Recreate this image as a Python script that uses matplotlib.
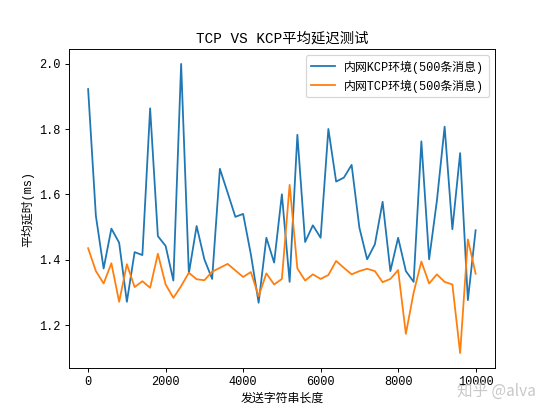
import numpy as np
import matplotlib
matplotlib.use('Agg')
import matplotlib.pyplot as plt

# 发送字符串长度 0..10000, step 200
lengths = list(range(0, 10001, 200))

kcp_delay = [1.922, 1.534, 1.373, 1.495, 1.452, 1.271, 1.423, 1.414, 1.863, 1.472,
             1.442, 1.336, 1.999, 1.358, 1.503, 1.401, 1.341, 1.678, 1.605, 1.531,
             1.540, 1.416, 1.268, 1.467, 1.391, 1.600, 1.332, 1.782, 1.454, 1.505,
             1.467, 1.800, 1.639, 1.651, 1.690, 1.498, 1.401, 1.447, 1.577, 1.365,
             1.467, 1.365, 1.332, 1.762, 1.401, 1.580, 1.807, 1.493, 1.726, 1.276,
             1.490]

tcp_delay = [1.435, 1.365, 1.327, 1.389, 1.271, 1.386, 1.316, 1.334, 1.314, 1.418,
             1.324, 1.283, 1.319, 1.360, 1.340, 1.337, 1.363, 1.375, 1.387, 1.367,
             1.347, 1.362, 1.288, 1.358, 1.324, 1.341, 1.629, 1.373, 1.336, 1.355,
             1.341, 1.353, 1.396, 1.375, 1.355, 1.365, 1.372, 1.365, 1.331, 1.341,
             1.368, 1.173, 1.299, 1.394, 1.327, 1.355, 1.332, 1.324, 1.114, 1.462,
             1.357]

plt.rcParams['font.family'] = ['Liberation Mono', 'Noto Sans CJK SC', 'DejaVu Sans']

fig, ax = plt.subplots(figsize=(6.4, 4.807), dpi=85.9375)

ax.plot(lengths, kcp_delay, label='内网KCP环境(500条消息)')
ax.plot(lengths, tcp_delay, label='内网TCP环境(500条消息)')

ax.set_title('TCP VS KCP平均延迟测试')
ax.set_xlabel('发送字符串长度')
ax.set_ylabel('平均延时(ms)')
ax.legend()

# watermark
fig.text(0.975, 0.052, '知乎 @alva', ha='right', va='center', fontsize=13,
         color='#c8c8c8', family=['Noto Sans CJK SC', 'DejaVu Sans'])

fig.savefig('out.png')
